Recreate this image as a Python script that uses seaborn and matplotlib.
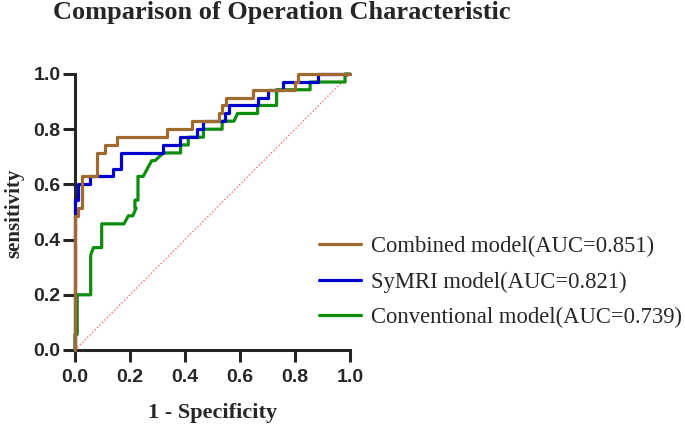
import numpy as np
import pandas as pd
import seaborn as sns
import matplotlib
matplotlib.use('Agg')
import matplotlib.pyplot as plt

# ROC vertices (1 - specificity, sensitivity)
combined_fpr = [0, 0, 0.012, 0.012, 0.027, 0.027, 0.081, 0.081, 0.109, 0.109, 0.152, 0.152,
                0.333, 0.333, 0.424, 0.424, 0.524, 0.524, 0.536, 0.536, 0.549, 0.549, 0.649, 0.649,
                0.8, 0.8, 0.812, 0.812, 1.0]
combined_tpr = [0, 0.486, 0.486, 0.514, 0.514, 0.629, 0.629, 0.714, 0.714, 0.743, 0.743, 0.771,
                0.771, 0.8, 0.8, 0.829, 0.829, 0.857, 0.857, 0.886, 0.886, 0.914, 0.914, 0.943,
                0.943, 0.971, 0.971, 1.0, 1.0]

symri_fpr = [0, 0, 0.012, 0.012, 0.055, 0.055, 0.137, 0.137, 0.166, 0.166, 0.319, 0.319,
             0.382, 0.382, 0.442, 0.442, 0.467, 0.467, 0.545, 0.545, 0.56, 0.56, 0.664, 0.664,
             0.703, 0.703, 0.758, 0.758, 0.885, 0.885, 1.0]
symri_tpr = [0, 0.543, 0.543, 0.6, 0.6, 0.629, 0.629, 0.657, 0.657, 0.714, 0.714, 0.743,
             0.743, 0.771, 0.771, 0.8, 0.8, 0.829, 0.829, 0.857, 0.857, 0.886, 0.886, 0.914,
             0.914, 0.943, 0.943, 0.971, 0.971, 1.0, 1.0]

conv_fpr = [0, 0, 0.008, 0.008, 0.057, 0.057, 0.067, 0.097, 0.097, 0.178, 0.194, 0.21, 0.222,
            0.222, 0.218, 0.218, 0.229, 0.229, 0.248, 0.279, 0.291, 0.321, 0.384, 0.384,
            0.412, 0.412, 0.467, 0.467, 0.535, 0.535, 0.578, 0.591, 0.664, 0.664, 0.733, 0.733,
            0.855, 0.855, 0.982, 0.982, 1.0]
conv_tpr = [0, 0.057, 0.057, 0.2, 0.2, 0.343, 0.371, 0.371, 0.457, 0.457, 0.486, 0.486, 0.514,
            0.514, 0.514, 0.543, 0.543, 0.629, 0.629, 0.686, 0.686, 0.714, 0.714, 0.743,
            0.743, 0.771, 0.771, 0.8, 0.8, 0.829, 0.829, 0.857, 0.857, 0.886, 0.886, 0.943,
            0.943, 0.971, 0.971, 1.0, 1.0]

labels = ['Combined model(AUC=0.851)', 'SyMRI model(AUC=0.821)', 'Conventional model(AUC=0.739)']
colors = ['#9E6A2E', '#0000CD', '#0E8C0E']

curves = [(combined_fpr, combined_tpr), (symri_fpr, symri_tpr), (conv_fpr, conv_tpr)]
frames = []
for lab, (fx, fy) in zip(labels, curves):
    frames.append(pd.DataFrame({'fpr': fx, 'tpr': fy, 'model': lab}))
df = pd.concat(frames, ignore_index=True)

sns.set_style('ticks')
plt.rcParams['font.family'] = ['Liberation Sans', 'DejaVu Sans']

fig = plt.figure(figsize=(6.85, 4.25), dpi=100)
ax = fig.add_axes([75/685, 1 - 350/425, 275/685, 276/425])

# chance line
ax.plot([0, 1], [0, 1], color='#FF6B6B', lw=1.0, ls=(0, (1, 1.5)), zorder=1)

# draw green first, brown on top
for i in [2, 1, 0]:
    sub = df[df.model == labels[i]]
    sns.lineplot(data=sub, x='fpr', y='tpr', sort=False, estimator=None, color=colors[i],
                 lw=2.3, ax=ax, label=labels[i], zorder=3 + (2 - i), clip_on=False)

ticks = np.arange(0, 1.01, 0.2)
ax.set_xlim(0, 1)
ax.set_ylim(0, 1)
ax.set_xticks(ticks)
ax.set_yticks(ticks)
ax.set_xticklabels([f'{v:.1f}' for v in ticks])
ax.set_yticklabels([f'{v:.1f}' for v in ticks])
sns.despine(ax=ax)
for s in ['left', 'bottom']:
    ax.spines[s].set_linewidth(2.2)
ax.tick_params(axis='both', length=8.5, width=2.2, labelsize=14)
ax.tick_params(axis='x', pad=5)
ax.tick_params(axis='y', pad=2)
for t in ax.get_xticklabels() + ax.get_yticklabels():
    t.set_fontweight('bold')
ax.set_xlabel('')
ax.set_ylabel('')

h, l = ax.get_legend_handles_labels()
order = [l.index(x) for x in labels]
leg = ax.legend([h[k] for k in order], [l[k] for k in order], loc='center left',
                bbox_to_anchor=(319/685, 1 - 282/425), bbox_transform=fig.transFigure,
                frameon=False, borderpad=0, borderaxespad=0, handlelength=1.85,
                handletextpad=0.45, labelspacing=0.62,
                prop={'family': 'Liberation Serif', 'size': 16.3})

fig.text(53/685, 1 - 19/425, 'Comparison of Operation Characteristic', family='Liberation Serif',
         weight='bold', size=19, ha='left', va='baseline')
fig.text(213/685, 1 - 418/425, '1 - Specificity', family='Liberation Serif', weight='bold',
         size=16, ha='center', va='baseline')
fig.text(14/685, 1 - 213/425, 'sensitivity', family='Liberation Serif', weight='bold',
         size=15, ha='center', va='center', rotation=90)

fig.savefig('out.png', dpi=100)
